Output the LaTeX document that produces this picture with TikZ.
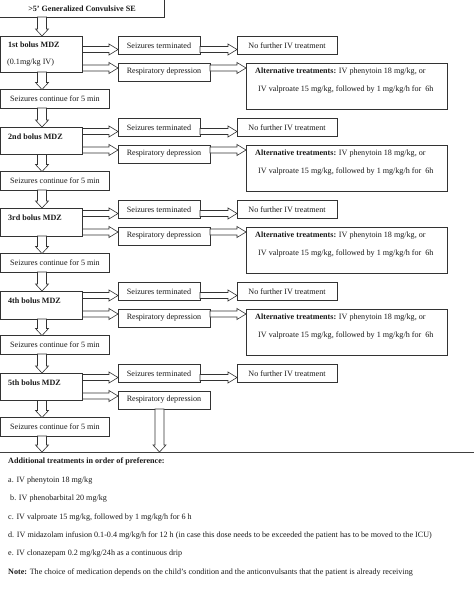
\documentclass[tikz,border=0pt]{standalone}
\usepackage{fontspec}
\setmainfont{Liberation Serif}
\usetikzlibrary{calc}
\newcommand\harr[3]{%
  \draw[hollow] let \p1=(#1), \p2=(#2), \p3=(#3) in
   (\x1,{\y3+3pt}) -- ({\x2-9pt},{\y3+3pt}) -- ({\x2-9pt},{\y3+5.5pt}) -- (\x2,\y3)
   -- ({\x2-9pt},{\y3-5.5pt}) -- ({\x2-9pt},{\y3-3pt}) -- (\x1,{\y3-3pt}) -- cycle;}
\newcommand\varr[3]{%
  \draw[hollow] let \p1=(#1), \p2=(#2), \p3=(#3) in
   ({\x3-4.5pt},\y1) -- ({\x3-4.5pt},{\y2+7pt}) -- ({\x3-6.5pt},{\y2+7pt}) -- (\x3,\y2)
   -- ({\x3+6.5pt},{\y2+7pt}) -- ({\x3+4.5pt},{\y2+7pt}) -- ({\x3+4.5pt},\y1) -- cycle;}
\begin{document}
\begin{tikzpicture}[x=1pt,y=-1pt,
  font=\fontsize{8.1}{9.5}\selectfont,
  every node/.style={text=black!90},
  box/.style={draw=black!80, line width=0.7pt, anchor=north west, inner sep=0pt, outer sep=0pt},
  lbl/.style={anchor=west, inner sep=0pt},
  hollow/.style={draw=black!80, line width=0.6pt, fill=white, line join=miter}]
\useasboundingbox (0,0) rectangle (474,589);
\fill[white] (0,0) rectangle (474,589);
\coordinate (axis) at (42,0);
\coordinate (rdx) at (159.5,0);
% top box
\node[box, minimum width=166, minimum height=19] (top) at (-2,-2) {};
\node[inner sep=0pt] (topt) at (82,9) {\textbf{>5\textquoteright\ Generalized Convulsive SE}};
% block 1
\node[box, minimum width=82, minimum height=36] (b1) at (0.5,36) {};
\node[lbl] (b1t) at (8,45) {\textbf{1st bolus MDZ}};
\node[lbl] (b1d) at (7,63) {(0.1mg/kg IV)};
\foreach \k/\st/\bt/\bh/\ord in {1/36/36/36/1st, 2/118/127/27.5/2nd, 3/200/208/28/3rd, 4/282/291/28/4th, 5/364/373/27.5/5th}{
  \ifnum\k>1
    \node[box, minimum width=82, minimum height=\bh] (b\k) at (0.5,\bt) {};
    \node[lbl] (b\k t) at (8,\bt+10) {\textbf{\ord\ bolus MDZ}};
  \fi
  \node[box, minimum width=82, minimum height=18.5] (st\k) at (118,\st) {Seizures terminated};
  \node[box, minimum width=92, minimum height=18] (rd\k) at (118,\st+27) {Respiratory depression};
  \node[box, minimum width=100, minimum height=18.5] (nf\k) at (237,\st) {No further IV treatment};
  \node[box, minimum width=109, minimum height=18.5] (sc\k) at (0.5,\st+53.5) {Seizures continue for 5 min};
  \coordinate (ya\k) at (0,\st+13.5);
  \coordinate (yb\k) at (0,\st+32);
  \harr{b\k.east}{st\k.west}{ya\k}
  \harr{b\k.east}{rd\k.west}{yb\k}
  \harr{st\k.east}{nf\k.west}{ya\k}
  \varr{b\k.south}{sc\k.north}{axis}
}
\foreach \k/\st in {1/36, 2/118, 3/200, 4/282}{
  \node[box, minimum width=201, minimum height=46] (alt\k) at (246,\st+27) {};
  \node[lbl] (alt\k a) at (255,\st+36) {\textbf{Alternative treatments:} IV phenytoin 18 mg/kg, or};
  \node[lbl] (alt\k b) at (258,\st+54) {IV valproate 15 mg/kg, followed by 1 mg/kg/h for \ 6h};
  \harr{rd\k.east}{alt\k.west}{yb\k}
}
\varr{top.south}{b1.north}{axis}
\varr{sc1.south}{b2.north}{axis}
\varr{sc2.south}{b3.north}{axis}
\varr{sc3.south}{b4.north}{axis}
\varr{sc4.south}{b5.north}{axis}
% bottom section
\coordinate (bl) at (0,452);
\coordinate (br) at (474,452);
\draw[draw=black!75, line width=0.7pt] (bl) -- (br);
\varr{sc5.south}{bl}{axis}
\varr{rd5.south}{bl}{rdx}
\node[lbl] (add) at (8,462) {\textbf{Additional treatments in order of preference:}};
\node[lbl] (ta) at (8,481) {a. IV phenytoin 18 mg/kg};
\node[lbl] (tb) at (10,499) {b. IV phenobarbital 20 mg/kg};
\node[lbl] (tc) at (8,518) {c. IV valproate 15 mg/kg, followed by 1 mg/kg/h for 6 h};
\node[lbl] (td) at (8,536) {d. IV midazolam infusion 0.1-0.4 mg/kg/h for 12 h (in case this dose needs to be exceeded the patient has to be moved to the ICU)};
\node[lbl] (te) at (8,554) {e. IV clonazepam 0.2 mg/kg/24h as a continuous drip};
\node[lbl] (tn) at (8,573) {\textbf{Note:} The choice of medication depends on the child\textquoteright s condition and the anticonvulsants that the patient is already receiving};
\end{tikzpicture}
\end{document}
